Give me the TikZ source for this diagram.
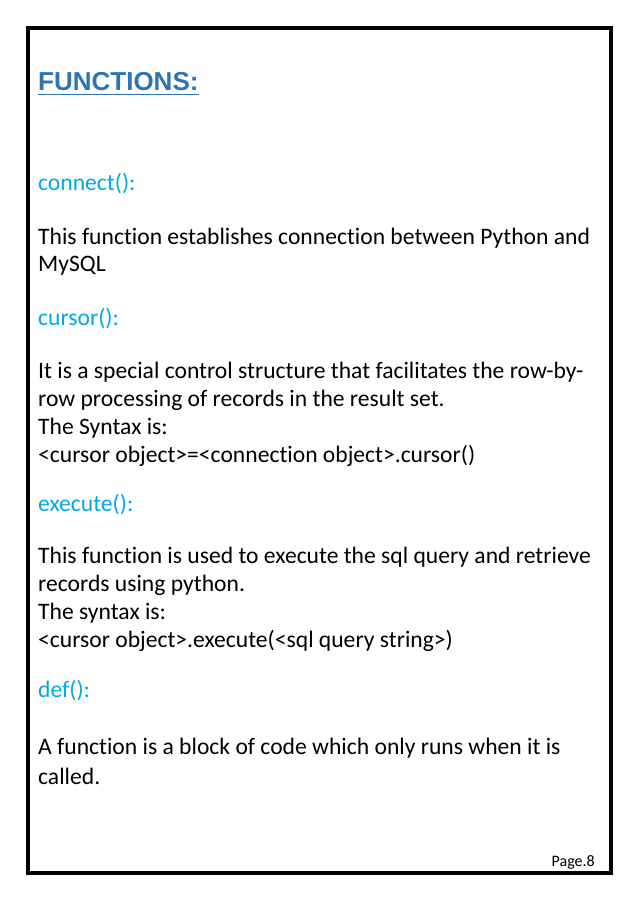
\documentclass[tikz,border=0pt]{standalone}
\usepackage{fontspec}
\setmainfont[RawFeature={-liga}]{Carlito}
\newfontfamily\headfont{Liberation Sans}
\definecolor{headblue}{HTML}{2E74B5}
\definecolor{subblue}{HTML}{00A8E8}
\begin{document}
\begin{tikzpicture}[x=1pt,y=-1pt,
  body/.style={anchor=west,inner sep=0pt,font=\fontsize{23.6}{28}\selectfont},
  sub/.style={body,text=subblue}]
\useasboundingbox (0,0) rectangle (638,902);
\draw[line width=4pt] (28,28) rectangle (611,873);
\node[anchor=west,inner sep=0pt,text=headblue,font=\headfont\bfseries\fontsize{26}{30}\selectfont] (h) at (38,82) {FUNCTIONS:};
\draw[headblue,line width=1.5pt] ([yshift=-3pt]h.south west) -- ([yshift=-3pt]h.south east);
\node[sub] (c1) at (38,184) {connect():};
\node[body] (t1) at (38,238) {This function establishes connection between Python and};
\node[body] (t2) at (38,266) {MySQL};
\node[sub] (c2) at (38,319) {cursor():};
\node[body] (t3) at (38,372) {It is a special control structure that facilitates the row-by-};
\node[body] (t4) at (38,400) {row processing of records in the result set.};
\node[body] (t5) at (38,428) {The Syntax is:};
\node[body] (t6) at (38,456) {<cursor object>=<connection object>.cursor()};
\node[sub] (c3) at (38,504) {execute():};
\node[body] (t7) at (38,557) {This function is used to execute the sql query and retrieve};
\node[body] (t8) at (38,585) {records using python.};
\node[body] (t9) at (38,613) {The syntax is:};
\node[body] (t10) at (38,641) {<cursor object>.execute(<sql query string>)};
\node[sub] (c4) at (38,690) {def():};
\node[body] (t11) at (38,748) {A function is a block of code which only runs when it is};
\node[body] (t12) at (38,776) {called.};
\node[anchor=east,inner sep=0pt,font=\fontsize{16}{18}\selectfont] (pg) at (595,862) {Page.8};
\end{tikzpicture}
\end{document}
